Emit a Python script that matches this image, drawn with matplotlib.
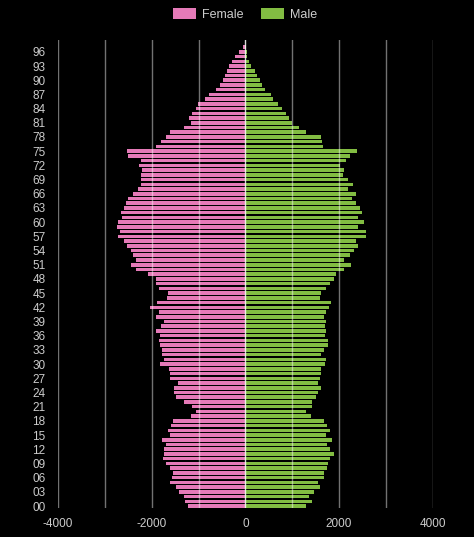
import matplotlib
matplotlib.use("Agg")
import matplotlib.pyplot as plt

# population by single year of age, 0..97
ages = list(range(0, 98))

female = [
    1228, 1286, 1314, 1414, 1471, 1614, 1557, 1543, 1600, 1686,
    1757, 1728, 1728, 1700, 1771, 1614, 1643, 1586, 1543, 1157,
    1043, 1143, 1314, 1486, 1528, 1514, 1443, 1614, 1614, 1628,
    1814, 1743, 1786, 1771, 1814, 1843, 1828, 1914, 1800, 1743,
    1914, 1843, 2043, 1886, 1671, 1657, 1843, 1900, 1900, 2086,
    2343, 2443, 2343, 2400, 2443, 2528, 2586, 2728, 2671, 2743,
    2728, 2643, 2657, 2586, 2543, 2500, 2400, 2300, 2228, 2228,
    2228, 2214, 2271, 2228, 2514, 2528, 1900, 1800, 1686, 1600,
    1314, 1164, 1207, 1136, 1057, 1021, 871, 771, 636, 543,
    486, 430, 393, 343, 280, 214, 143, 40,
]

male = [
    1300, 1428, 1357, 1471, 1586, 1543, 1671, 1671, 1743, 1771,
    1814, 1900, 1814, 1743, 1857, 1728, 1800, 1743, 1671, 1400,
    1300, 1428, 1414, 1514, 1557, 1614, 1543, 1600, 1614, 1614,
    1700, 1728, 1614, 1671, 1771, 1771, 1700, 1728, 1700, 1728,
    1686, 1714, 1786, 1828, 1586, 1614, 1714, 1814, 1900, 1943,
    2100, 2257, 2100, 2228, 2328, 2400, 2371, 2571, 2571, 2400,
    2543, 2414, 2500, 2443, 2371, 2271, 2357, 2186, 2300, 2200,
    2086, 2100, 2028, 2157, 2243, 2386, 1657, 1628, 1614, 1286,
    1136, 1000, 928, 864, 778, 693, 593, 543, 421, 357,
    307, 250, 200, 114, 86, 43, 30, 10,
]

age_ticks = list(range(0, 97, 3))
age_labels = [f"{a:02d}" for a in age_ticks]
x_ticks = [-4000, -2000, 0, 2000, 4000]

female_color = "#e57ab8"
male_color = "#82bc42"
text_color = "#cccccc"

plt.rcParams["font.family"] = ["Liberation Sans", "DejaVu Sans"]

fig = plt.figure(figsize=(4.74, 5.37), dpi=100, facecolor="black")
ax = fig.add_axes([0.1224, 0.0533, 0.7904, 0.8722], facecolor="black")

ax.barh(ages, [-v for v in female], height=0.75, color=female_color,
        label="Female", zorder=2)
ax.barh(ages, male, height=0.75, color=male_color, label="Male", zorder=2)

# vertical grid every 1000, drawn over the bars
for gx in range(-4000, 4001, 1000):
    if gx == 0:
        ax.axvline(gx, color="white", alpha=0.85, lw=1.0, zorder=3)
    else:
        ax.axvline(gx, color="white", alpha=0.45, lw=1.0, zorder=3)

ax.set_xlim(-4000, 4000)
ax.set_ylim(-0.5, 98.5)
ax.set_xticks(x_ticks)
ax.set_xticklabels([str(t) for t in x_ticks])
ax.set_yticks(age_ticks)
ax.set_yticklabels(age_labels)
ax.tick_params(axis="both", length=0, colors=text_color, labelsize=8.5)
ax.tick_params(axis="y", pad=9)
ax.tick_params(axis="x", pad=7)
for spine in ax.spines.values():
    spine.set_visible(False)

# legend centred over the plot area, not the figure
fig.legend(loc="center", bbox_to_anchor=(0.517, 0.973), ncol=2, frameon=False,
           fontsize=9, labelcolor=text_color, handlelength=1.85,
           handleheight=0.9, handletextpad=0.45, columnspacing=1.4)

fig.savefig("out.png", dpi=100, facecolor="black")
